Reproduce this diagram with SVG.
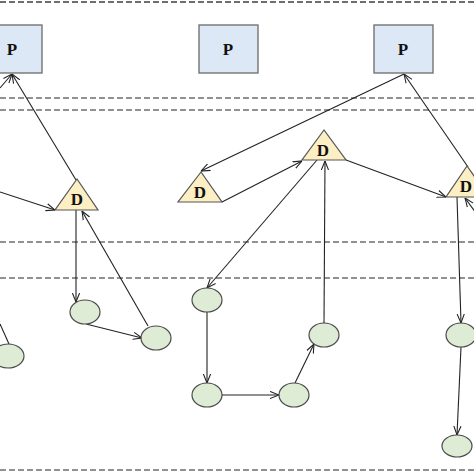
<svg xmlns="http://www.w3.org/2000/svg" width="474" height="474" viewBox="0 0 474 474">
<style>
.sep{stroke:#6e6e6e;stroke-width:1.4;stroke-dasharray:6 3;fill:none}
.p{fill:#dce8f5;stroke:#6a6a6a;stroke-width:1.3}
.d{fill:#fcefc4;stroke:#555;stroke-width:1.2}
.e{fill:#deecd5;stroke:#4a4a4a;stroke-width:1.2}
.lbl{font-family:"Liberation Serif",serif;font-weight:bold;font-size:17px;fill:#111;text-anchor:middle}
.c line{stroke:#222;stroke-width:1.1}
.a{marker-end:url(#ah)}
</style>
<defs>
<marker id="ah" viewBox="0 0 10 10" refX="10" refY="5" markerWidth="9" markerHeight="9" markerUnits="userSpaceOnUse" orient="auto">
<path d="M0,1 L10,5 L0,9" fill="none" stroke="#222" stroke-width="1.2"/>
</marker>
</defs>
<rect width="474" height="474" fill="#fff"/>
<g id="separators">
<line class="sep" x1="0" y1="2" x2="474" y2="2" style="stroke-width:2.2"/>
<line class="sep" x1="0" y1="98" x2="474" y2="98"/>
<line class="sep" x1="0" y1="110" x2="474" y2="110"/>
<line class="sep" x1="0" y1="242" x2="474" y2="242"/>
<line class="sep" x1="0" y1="278" x2="474" y2="278"/>
<line class="sep" x1="0" y1="470" x2="474" y2="470"/>
</g>
<g id="connectors" class="c">
<line class="a" x1="0" y1="88" x2="12" y2="74"/>
<line class="a" x1="76" y1="180" x2="12" y2="74"/>
<line class="a" x1="0" y1="192" x2="55" y2="210"/>
<line class="a" x1="76" y1="210" x2="76" y2="302"/>
<line class="a" x1="148" y1="326" x2="82" y2="211"/>
<line class="a" x1="86" y1="324" x2="142" y2="338"/>
<line x1="0" y1="324" x2="9" y2="344"/>
<line class="a" x1="404" y1="74" x2="201" y2="171"/>
<line class="a" x1="468" y1="167" x2="404" y2="74"/>
<line class="a" x1="222" y1="202" x2="302" y2="161"/>
<line class="a" x1="317" y1="160" x2="207" y2="288"/>
<line class="a" x1="207" y1="312" x2="207" y2="383"/>
<line class="a" x1="222" y1="395" x2="279" y2="395"/>
<line class="a" x1="295" y1="383" x2="314" y2="344"/>
<line class="a" x1="324" y1="323" x2="325" y2="161"/>
<line class="a" x1="346" y1="160" x2="446" y2="197"/>
<line class="a" x1="476" y1="213" x2="465" y2="198"/>
<line class="a" x1="457" y1="197" x2="461" y2="323"/>
<line class="a" x1="461" y1="347" x2="457" y2="435"/>
</g>
<g id="P1"><rect class="p" x="-17" y="25" width="59" height="48"/><text class="lbl" x="12" y="55">P</text></g>
<g id="P2"><rect class="p" x="199" y="25" width="59" height="48"/><text class="lbl" x="228" y="55">P</text></g>
<g id="P3"><rect class="p" x="374" y="25" width="59" height="48"/><text class="lbl" x="403" y="55">P</text></g>
<g id="D1"><polygon class="d" points="77,179 55,210 98,210"/><text class="lbl" x="77" y="205">D</text></g>
<g id="D2"><polygon class="d" points="201,172 178,202 222,202"/><text class="lbl" x="200" y="198">D</text></g>
<g id="D3"><polygon class="d" points="324,130 302,160 346,160"/><text class="lbl" x="323" y="156">D</text></g>
<g id="D4"><polygon class="d" points="467,166 446,197 489,197"/><text class="lbl" x="466" y="192">D</text></g>
<g id="E1"><ellipse class="e" cx="85" cy="312" rx="15" ry="12"/></g>
<g id="E2"><ellipse class="e" cx="156" cy="338" rx="15" ry="12"/></g>
<g id="E3"><ellipse class="e" cx="8" cy="356" rx="16" ry="12"/></g>
<g id="E4"><ellipse class="e" cx="207" cy="300" rx="15" ry="12"/></g>
<g id="E5"><ellipse class="e" cx="207" cy="395" rx="15" ry="12"/></g>
<g id="E6"><ellipse class="e" cx="294" cy="395" rx="15" ry="12"/></g>
<g id="E7"><ellipse class="e" cx="324" cy="335" rx="15" ry="12"/></g>
<g id="E8"><ellipse class="e" cx="461" cy="335" rx="15" ry="12"/></g>
<g id="E9"><ellipse class="e" cx="457" cy="446" rx="15" ry="11"/></g>
</svg>
